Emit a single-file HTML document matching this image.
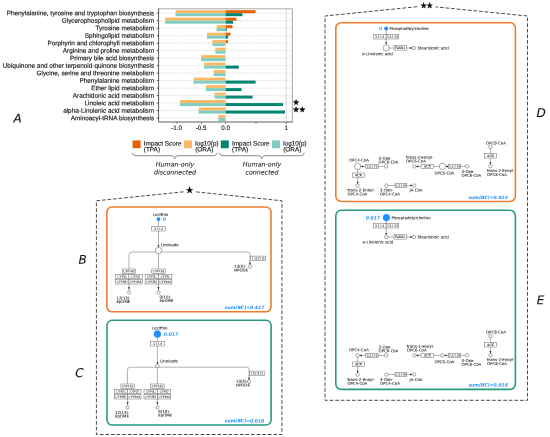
<!DOCTYPE html>
<html><head><meta charset="utf-8"><title>Figure</title>
<style>
html,body{margin:0;padding:0;background:#fff}
body{width:550px;height:437px;overflow:hidden}
svg{display:block}
text{font-family:"DejaVu Sans","Liberation Sans",sans-serif;fill:#222;text-rendering:geometricPrecision}
.lb{font-family:"Liberation Sans",sans-serif;font-size:6.4px;fill:#111;stroke:#111;stroke-width:0.14px}
.tk{font-family:"Liberation Sans",sans-serif;font-size:6.3px;fill:#111;stroke:#111;stroke-width:0.1px}
.lg{font-family:"Liberation Sans",sans-serif;font-size:6.4px;fill:#111;stroke:#111;stroke-width:0.12px}
.hm{font-size:6.3px;font-style:italic;fill:#222;stroke:#222;stroke-width:0.1px}
.pl{font-size:12px;font-style:italic;fill:#111;stroke:#111;stroke-width:0.12px}
.st{font-size:7.4px;fill:#000;stroke:#000;stroke-width:0.35px;stroke-linejoin:round}
.pw{font-size:3.92px;fill:#111;stroke:#111;stroke-width:0.05px}
.bx{font-family:"Liberation Serif",serif;fill:#111;stroke:#111;stroke-width:0.08px}
.sm{font-size:4.5px;font-style:italic;font-weight:bold;fill:#1E90FF}
.bv0{font-size:4.7px;font-style:italic;font-weight:bold;fill:#4AA5FF}
</style></head><body>
<svg width="550" height="437" viewBox="0 0 550 437">
<rect x="0" y="0" width="550" height="437" fill="#fff"/>
<rect x="158.6" y="8.8" width="133.79999999999998" height="113.2" fill="#fff" stroke="none"/>
<line x1="158.6" y1="13.20" x2="292.4" y2="13.20" stroke="#bdbdbd" stroke-width="0.55" stroke-dasharray="0.75 0.75"/>
<line x1="158.6" y1="20.69" x2="292.4" y2="20.69" stroke="#bdbdbd" stroke-width="0.55" stroke-dasharray="0.75 0.75"/>
<line x1="158.6" y1="28.18" x2="292.4" y2="28.18" stroke="#bdbdbd" stroke-width="0.55" stroke-dasharray="0.75 0.75"/>
<line x1="158.6" y1="35.67" x2="292.4" y2="35.67" stroke="#bdbdbd" stroke-width="0.55" stroke-dasharray="0.75 0.75"/>
<line x1="158.6" y1="43.16" x2="292.4" y2="43.16" stroke="#bdbdbd" stroke-width="0.55" stroke-dasharray="0.75 0.75"/>
<line x1="158.6" y1="50.65" x2="292.4" y2="50.65" stroke="#bdbdbd" stroke-width="0.55" stroke-dasharray="0.75 0.75"/>
<line x1="158.6" y1="58.14" x2="292.4" y2="58.14" stroke="#bdbdbd" stroke-width="0.55" stroke-dasharray="0.75 0.75"/>
<line x1="158.6" y1="65.63" x2="292.4" y2="65.63" stroke="#bdbdbd" stroke-width="0.55" stroke-dasharray="0.75 0.75"/>
<line x1="158.6" y1="73.12" x2="292.4" y2="73.12" stroke="#bdbdbd" stroke-width="0.55" stroke-dasharray="0.75 0.75"/>
<line x1="158.6" y1="80.61" x2="292.4" y2="80.61" stroke="#bdbdbd" stroke-width="0.55" stroke-dasharray="0.75 0.75"/>
<line x1="158.6" y1="88.10" x2="292.4" y2="88.10" stroke="#bdbdbd" stroke-width="0.55" stroke-dasharray="0.75 0.75"/>
<line x1="158.6" y1="95.59" x2="292.4" y2="95.59" stroke="#bdbdbd" stroke-width="0.55" stroke-dasharray="0.75 0.75"/>
<line x1="158.6" y1="103.08" x2="292.4" y2="103.08" stroke="#bdbdbd" stroke-width="0.55" stroke-dasharray="0.75 0.75"/>
<line x1="158.6" y1="110.57" x2="292.4" y2="110.57" stroke="#bdbdbd" stroke-width="0.55" stroke-dasharray="0.75 0.75"/>
<line x1="158.6" y1="118.06" x2="292.4" y2="118.06" stroke="#bdbdbd" stroke-width="0.55" stroke-dasharray="0.75 0.75"/>
<line x1="286.2" y1="8.8" x2="286.2" y2="122" stroke="#d2d2d2" stroke-width="0.9"/>
<rect x="175.5" y="10.20" width="50.10" height="3.0" fill="#FDB863"/>
<rect x="175.5" y="13.20" width="50.10" height="3.0" fill="#80CDC1"/>
<rect x="225.6" y="10.20" width="30.00" height="3.0" fill="#E66101"/>
<rect x="225.6" y="13.20" width="16.80" height="3.0" fill="#018571"/>
<rect x="165" y="17.69" width="60.60" height="3.0" fill="#FDB863"/>
<rect x="165" y="20.69" width="60.60" height="3.0" fill="#80CDC1"/>
<rect x="225.6" y="17.69" width="10.80" height="3.0" fill="#E66101"/>
<rect x="225.6" y="20.69" width="7.40" height="3.0" fill="#018571"/>
<rect x="216.6" y="25.18" width="9.00" height="3.0" fill="#FDB863"/>
<rect x="216.6" y="28.18" width="9.00" height="3.0" fill="#80CDC1"/>
<rect x="225.6" y="25.18" width="6.90" height="3.0" fill="#E66101"/>
<rect x="225.6" y="28.18" width="1.20" height="3.0" fill="#018571"/>
<rect x="207" y="32.67" width="18.60" height="3.0" fill="#FDB863"/>
<rect x="207" y="35.67" width="18.60" height="3.0" fill="#80CDC1"/>
<rect x="225.6" y="32.67" width="4.80" height="3.0" fill="#E66101"/>
<rect x="225.6" y="35.67" width="2.40" height="3.0" fill="#018571"/>
<rect x="212.4" y="40.16" width="13.20" height="3.0" fill="#FDB863"/>
<rect x="212.4" y="43.16" width="13.20" height="3.0" fill="#80CDC1"/>
<rect x="225.6" y="40.16" width="2.40" height="3.0" fill="#E66101"/>
<rect x="215.4" y="47.65" width="10.20" height="3.0" fill="#FDB863"/>
<rect x="215.4" y="50.65" width="10.20" height="3.0" fill="#80CDC1"/>
<rect x="201" y="55.14" width="24.60" height="3.0" fill="#FDB863"/>
<rect x="201" y="58.14" width="24.60" height="3.0" fill="#80CDC1"/>
<rect x="204" y="62.63" width="21.60" height="3.0" fill="#FDB863"/>
<rect x="204" y="65.63" width="21.60" height="3.0" fill="#80CDC1"/>
<rect x="225.6" y="65.63" width="13.20" height="3.0" fill="#018571"/>
<rect x="213.6" y="70.12" width="12.00" height="3.0" fill="#FDB863"/>
<rect x="213.6" y="73.12" width="12.00" height="3.0" fill="#80CDC1"/>
<rect x="193.5" y="77.61" width="32.10" height="3.0" fill="#FDB863"/>
<rect x="193.5" y="80.61" width="32.10" height="3.0" fill="#80CDC1"/>
<rect x="225.6" y="80.61" width="30.00" height="3.0" fill="#018571"/>
<rect x="205.8" y="85.10" width="19.80" height="3.0" fill="#FDB863"/>
<rect x="205.8" y="88.10" width="19.80" height="3.0" fill="#80CDC1"/>
<rect x="225.6" y="88.10" width="15.90" height="3.0" fill="#018571"/>
<rect x="214.5" y="92.59" width="11.10" height="3.0" fill="#FDB863"/>
<rect x="214.5" y="95.59" width="11.10" height="3.0" fill="#80CDC1"/>
<rect x="225.6" y="95.59" width="27.00" height="3.0" fill="#018571"/>
<rect x="180" y="100.08" width="45.60" height="3.0" fill="#FDB863"/>
<rect x="180" y="103.08" width="45.60" height="3.0" fill="#80CDC1"/>
<rect x="225.6" y="103.08" width="57.40" height="3.0" fill="#018571"/>
<rect x="198.6" y="107.57" width="27.00" height="3.0" fill="#FDB863"/>
<rect x="198.6" y="110.57" width="27.00" height="3.0" fill="#80CDC1"/>
<rect x="225.6" y="110.57" width="59.40" height="3.0" fill="#018571"/>
<rect x="218.4" y="115.06" width="7.20" height="3.0" fill="#FDB863"/>
<rect x="218.4" y="118.06" width="7.20" height="3.0" fill="#80CDC1"/>
<path d="M158.6,8.8 L292.4,8.8 L292.4,122" fill="none" stroke="#a0a0a0" stroke-width="0.9"/>
<path d="M158.6,8.4 L158.6,122 L292.79999999999995,122" fill="none" stroke="#4d4d4d" stroke-width="0.9"/>
<line x1="156.7" y1="13.20" x2="158.6" y2="13.20" stroke="#333" stroke-width="0.8"/>
<text x="154.1" y="15.40" transform="rotate(0.05 154.1 15.40)" text-anchor="end" class="lb">Phenylalanine, tyrosine and tryptophan biosynthesis</text>
<line x1="156.7" y1="20.69" x2="158.6" y2="20.69" stroke="#333" stroke-width="0.8"/>
<text x="154.1" y="22.89" transform="rotate(0.05 154.1 22.89)" text-anchor="end" class="lb">Glycerophospholipid metabolism</text>
<line x1="156.7" y1="28.18" x2="158.6" y2="28.18" stroke="#333" stroke-width="0.8"/>
<text x="154.1" y="30.38" transform="rotate(0.05 154.1 30.38)" text-anchor="end" class="lb">Tyrosine metabolism</text>
<line x1="156.7" y1="35.67" x2="158.6" y2="35.67" stroke="#333" stroke-width="0.8"/>
<text x="154.1" y="37.87" transform="rotate(0.05 154.1 37.87)" text-anchor="end" class="lb">Sphingolipid metabolism</text>
<line x1="156.7" y1="43.16" x2="158.6" y2="43.16" stroke="#333" stroke-width="0.8"/>
<text x="154.1" y="45.36" transform="rotate(0.05 154.1 45.36)" text-anchor="end" class="lb">Porphyrin and chlorophyll metabolism</text>
<line x1="156.7" y1="50.65" x2="158.6" y2="50.65" stroke="#333" stroke-width="0.8"/>
<text x="154.1" y="52.85" transform="rotate(0.05 154.1 52.85)" text-anchor="end" class="lb">Arginine and proline metabolism</text>
<line x1="156.7" y1="58.14" x2="158.6" y2="58.14" stroke="#333" stroke-width="0.8"/>
<text x="154.1" y="60.34" transform="rotate(0.05 154.1 60.34)" text-anchor="end" class="lb">Primary bile acid biosynthesis</text>
<line x1="156.7" y1="65.63" x2="158.6" y2="65.63" stroke="#333" stroke-width="0.8"/>
<text x="154.1" y="67.83" transform="rotate(0.05 154.1 67.83)" text-anchor="end" class="lb">Ubiquinone and other terpenoid-quinone biosynthesis</text>
<line x1="156.7" y1="73.12" x2="158.6" y2="73.12" stroke="#333" stroke-width="0.8"/>
<text x="154.1" y="75.32" transform="rotate(0.05 154.1 75.32)" text-anchor="end" class="lb">Glycine, serine and threonine metabolism</text>
<line x1="156.7" y1="80.61" x2="158.6" y2="80.61" stroke="#333" stroke-width="0.8"/>
<text x="154.1" y="82.81" transform="rotate(0.05 154.1 82.81)" text-anchor="end" class="lb">Phenylalanine metabolism</text>
<line x1="156.7" y1="88.10" x2="158.6" y2="88.10" stroke="#333" stroke-width="0.8"/>
<text x="154.1" y="90.30" transform="rotate(0.05 154.1 90.30)" text-anchor="end" class="lb">Ether lipid metabolism</text>
<line x1="156.7" y1="95.59" x2="158.6" y2="95.59" stroke="#333" stroke-width="0.8"/>
<text x="154.1" y="97.79" transform="rotate(0.05 154.1 97.79)" text-anchor="end" class="lb">Arachidonic acid metabolism</text>
<line x1="156.7" y1="103.08" x2="158.6" y2="103.08" stroke="#333" stroke-width="0.8"/>
<text x="154.1" y="105.28" transform="rotate(0.05 154.1 105.28)" text-anchor="end" class="lb">Linoleic acid metabolism</text>
<line x1="156.7" y1="110.57" x2="158.6" y2="110.57" stroke="#333" stroke-width="0.8"/>
<text x="154.1" y="112.77" transform="rotate(0.05 154.1 112.77)" text-anchor="end" class="lb">alpha-Linolenic acid metabolism</text>
<line x1="156.7" y1="118.06" x2="158.6" y2="118.06" stroke="#333" stroke-width="0.8"/>
<text x="154.1" y="120.26" transform="rotate(0.05 154.1 120.26)" text-anchor="end" class="lb">Aminoacyl-tRNA biosynthesis</text>
<line x1="177" y1="122" x2="177" y2="124" stroke="#444" stroke-width="0.6"/>
<text x="176.7" y="130" transform="rotate(0.05 176.7 130)" text-anchor="middle" class="tk">-1.0</text>
<line x1="201.5" y1="122" x2="201.5" y2="124" stroke="#444" stroke-width="0.6"/>
<text x="201.2" y="130" transform="rotate(0.05 201.2 130)" text-anchor="middle" class="tk">-0.5</text>
<line x1="225.6" y1="122" x2="225.6" y2="124" stroke="#444" stroke-width="0.6"/>
<text x="225.6" y="130" transform="rotate(0.05 225.6 130)" text-anchor="middle" class="tk">0.0</text>
<line x1="256" y1="122" x2="256" y2="124" stroke="#444" stroke-width="0.6"/>
<line x1="286.3" y1="122" x2="286.3" y2="124" stroke="#444" stroke-width="0.6"/>
<text x="286.3" y="130" transform="rotate(0.05 286.3 130)" text-anchor="middle" class="tk">1</text>
<text x="295.95" y="104.8" transform="rotate(0.05 295.95 104.8)" text-anchor="middle" class="st">★</text>
<text x="295.95" y="111.95" transform="rotate(0.05 295.95 111.95)" text-anchor="middle" class="st">★</text>
<text x="302.3" y="111.95" transform="rotate(0.05 302.3 111.95)" text-anchor="middle" class="st">★</text>
<text x="13.6" y="122.6" transform="rotate(0.05 13.6 122.6)" class="pl">A</text>
<rect x="132.6" y="140.4" width="8" height="7.8" fill="#E66101"/>
<text x="143.79999999999998" y="145.5" transform="rotate(0.05 143.79999999999998 145.5)" class="lg">Impact Score</text>
<text x="143.79999999999998" y="151.6" transform="rotate(0.05 143.79999999999998 151.6)" class="lg">(TPA)</text>
<rect x="184" y="140.4" width="8" height="7.8" fill="#FDB863"/>
<text x="195.2" y="145.5" transform="rotate(0.05 195.2 145.5)" class="lg">log10(p)</text>
<text x="195.2" y="151.6" transform="rotate(0.05 195.2 151.6)" class="lg">(ORA)</text>
<rect x="220.8" y="140.4" width="8" height="7.8" fill="#018571"/>
<text x="232.0" y="145.5" transform="rotate(0.05 232.0 145.5)" class="lg">Impact Score</text>
<text x="232.0" y="151.6" transform="rotate(0.05 232.0 151.6)" class="lg">(TPA)</text>
<rect x="272" y="140.4" width="8" height="7.8" fill="#80CDC1"/>
<text x="283.2" y="145.5" transform="rotate(0.05 283.2 145.5)" class="lg">log10(p)</text>
<text x="283.2" y="151.6" transform="rotate(0.05 283.2 151.6)" class="lg">(ORA)</text>
<path d="M132.4,152.7 Q132.4,155.7 136.9,155.7 L170.2,155.7 Q174.7,155.7 174.7,158.7 Q174.7,155.7 179.2,155.7 L212.5,155.7 Q217,155.7 217,152.7" fill="none" stroke="#555" stroke-width="0.7"/>
<path d="M219.4,152.7 Q219.4,155.7 223.9,155.7 L257.3,155.7 Q261.8,155.7 261.8,158.7 Q261.8,155.7 266.3,155.7 L299.7,155.7 Q304.2,155.7 304.2,152.7" fill="none" stroke="#555" stroke-width="0.7"/>
<text x="175" y="166.6" transform="rotate(0.05 175 166.6)" text-anchor="middle" class="hm">Human-only</text>
<text x="175" y="174.4" transform="rotate(0.05 175 174.4)" text-anchor="middle" class="hm">disconnected</text>
<text x="262" y="166.6" transform="rotate(0.05 262 166.6)" text-anchor="middle" class="hm">Human-only</text>
<text x="262" y="174.4" transform="rotate(0.05 262 174.4)" text-anchor="middle" class="hm">connected</text>
<path d="M183.6,191.8 L96.4,200.8 L96.4,434.5 L281.95,434.5 L281.95,200.8 L195.4,191.8" fill="none" stroke="#4a4a4a" stroke-width="1" stroke-dasharray="3.7 1.9"/>
<text x="189.55" y="192.9" transform="rotate(0.05 189.55 192.9)" text-anchor="middle" class="st" style="font-size:8.6px">★</text>
<path d="M417.2,6.7 L325,16 L325,400.3 L527.5,400.3 L527.5,16 L435.6,6.9" fill="none" stroke="#4a4a4a" stroke-width="1" stroke-dasharray="3.7 1.9"/>
<text x="423.6" y="7.95" transform="rotate(0.05 423.6 7.95)" text-anchor="middle" class="st" style="font-size:7.6px">★</text>
<text x="429.7" y="7.95" transform="rotate(0.05 429.7 7.95)" text-anchor="middle" class="st" style="font-size:7.6px">★</text>
<rect x="106.9" y="207" width="164.1" height="104.80000000000001" rx="5" ry="5" fill="#fff" stroke="#ED7D31" stroke-width="1.6"/>
<rect x="107" y="320.3" width="164.1" height="104.69999999999999" rx="5" ry="5" fill="#fff" stroke="#259C82" stroke-width="1.6"/>
<text x="160.6" y="216" transform="rotate(0.05 160.6 216)" text-anchor="middle" class="pw">Lecithin</text>
<path d="M158.5,221 L158.5,246" fill="none" stroke="#666" stroke-width="0.5"/>
<circle cx="158.5" cy="219.1" r="1.7" fill="#1E90FF" stroke="#1877E0" stroke-width="0.45"/>
<text x="164.3" y="220.7" transform="rotate(0.05 164.3 220.7)" text-anchor="middle" class="bv0">0</text>
<rect x="151.8" y="226.4" width="13.40" height="4.60" fill="#fff" stroke="#555" stroke-width="0.45"/>
<text x="158.50" y="229.82" transform="rotate(0.05 158.50 229.82)" text-anchor="middle" class="bx" style="font-size:3.3px">3.1.1.4</text>
<polygon points="157.5,245.2 159.5,245.2 158.5,247.2" fill="#111"/>
<text x="160.8" y="246.2" transform="rotate(0.05 160.8 246.2)" text-anchor="start" class="pw">Linoleate</text>
<path d="M158.5,252 L132,252 Q129,252 129,255 L129,269" fill="none" stroke="#666" stroke-width="0.5"/>
<path d="M158.5,252 L248,252 Q250,252 250,254 L250,265" fill="none" stroke="#666" stroke-width="0.5"/>
<path d="M158.5,252 L158.5,269" fill="none" stroke="#666" stroke-width="0.5"/>
<circle cx="158.5" cy="250.5" r="3.2" fill="#fff" stroke="#444" stroke-width="0.45"/>
<rect x="122.3" y="269" width="13.40" height="4.40" fill="#fff" stroke="#555" stroke-width="0.45"/>
<text x="129.00" y="272.25" transform="rotate(0.05 129.00 272.25)" text-anchor="middle" class="bx" style="font-size:3.1px">CYP1A2</text>
<rect x="115.6" y="274.3" width="13.40" height="4.40" fill="#fff" stroke="#555" stroke-width="0.45"/>
<text x="122.30" y="277.55" transform="rotate(0.05 122.30 277.55)" text-anchor="middle" class="bx" style="font-size:3.1px">CYP2C</text>
<rect x="129" y="274.3" width="13.40" height="4.40" fill="#fff" stroke="#555" stroke-width="0.45"/>
<text x="135.70" y="277.55" transform="rotate(0.05 135.70 277.55)" text-anchor="middle" class="bx" style="font-size:3.1px">CYP2J</text>
<rect x="115.6" y="279.6" width="13.40" height="4.40" fill="#fff" stroke="#555" stroke-width="0.45"/>
<text x="122.30" y="282.85" transform="rotate(0.05 122.30 282.85)" text-anchor="middle" class="bx" style="font-size:3.1px">CYP2E1</text>
<rect x="129" y="279.6" width="13.40" height="4.40" fill="#fff" stroke="#555" stroke-width="0.45"/>
<text x="135.70" y="282.85" transform="rotate(0.05 135.70 282.85)" text-anchor="middle" class="bx" style="font-size:3.1px">CYP3A4</text>
<path d="M129,284 L129,291" fill="none" stroke="#666" stroke-width="0.5"/>
<polygon points="128.0,287.2 130.0,287.2 129,289.2" fill="#111"/>
<circle cx="129" cy="292.4" r="1.6" fill="#fff" stroke="#444" stroke-width="0.45"/>
<rect x="151.8" y="269" width="13.40" height="4.40" fill="#fff" stroke="#555" stroke-width="0.45"/>
<text x="158.50" y="272.25" transform="rotate(0.05 158.50 272.25)" text-anchor="middle" class="bx" style="font-size:3.1px">CYP1A2</text>
<rect x="145.1" y="274.3" width="13.40" height="4.40" fill="#fff" stroke="#555" stroke-width="0.45"/>
<text x="151.80" y="277.55" transform="rotate(0.05 151.80 277.55)" text-anchor="middle" class="bx" style="font-size:3.1px">CYP2C</text>
<rect x="158.5" y="274.3" width="13.40" height="4.40" fill="#fff" stroke="#555" stroke-width="0.45"/>
<text x="165.20" y="277.55" transform="rotate(0.05 165.20 277.55)" text-anchor="middle" class="bx" style="font-size:3.1px">CYP2J</text>
<rect x="145.1" y="279.6" width="13.40" height="4.40" fill="#fff" stroke="#555" stroke-width="0.45"/>
<text x="151.80" y="282.85" transform="rotate(0.05 151.80 282.85)" text-anchor="middle" class="bx" style="font-size:3.1px">CYP2E1</text>
<rect x="158.5" y="279.6" width="13.40" height="4.40" fill="#fff" stroke="#555" stroke-width="0.45"/>
<text x="165.20" y="282.85" transform="rotate(0.05 165.20 282.85)" text-anchor="middle" class="bx" style="font-size:3.1px">CYP3A4</text>
<path d="M158.5,284 L158.5,291" fill="none" stroke="#666" stroke-width="0.5"/>
<polygon points="157.5,287.2 159.5,287.2 158.5,289.2" fill="#111"/>
<circle cx="158.5" cy="292.4" r="1.6" fill="#fff" stroke="#444" stroke-width="0.45"/>
<text x="116.4" y="299.4" transform="rotate(0.05 116.4 299.4)" text-anchor="start" class="pw">12(13)-</text>
<text x="116.4" y="302.9" transform="rotate(0.05 116.4 302.9)" text-anchor="start" class="pw">EpOME</text>
<text x="159.6" y="298.4" transform="rotate(0.05 159.6 298.4)" text-anchor="start" class="pw">9(10)-</text>
<text x="159.6" y="301.9" transform="rotate(0.05 159.6 301.9)" text-anchor="start" class="pw">EpOME</text>
<rect x="250.6" y="256.1" width="15.20" height="4.60" fill="#fff" stroke="#555" stroke-width="0.45"/>
<text x="258.20" y="259.42" transform="rotate(0.05 258.20 259.42)" text-anchor="middle" class="bx" style="font-size:3.0px">1.13.11.12</text>
<polygon points="249.0,262.8 251.0,262.8 250,264.8" fill="#111"/>
<circle cx="250" cy="266.6" r="1.65" fill="#fff" stroke="#444" stroke-width="0.45"/>
<text x="234.2" y="267.7" transform="rotate(0.05 234.2 267.7)" text-anchor="start" class="pw">13(S)-</text>
<text x="234.2" y="271.6" transform="rotate(0.05 234.2 271.6)" text-anchor="start" class="pw">HPODE</text>
<text x="264.2" y="309" transform="rotate(0.05 264.2 309)" text-anchor="end" class="sm">sum(BC)=0.417</text>
<text x="78.6" y="263.7" transform="rotate(0.05 78.6 263.7)" text-anchor="start" class="pl">B</text>
<text x="159.9" y="329.4" transform="rotate(0.05 159.9 329.4)" text-anchor="middle" class="pw">Lecithin</text>
<path d="M157.4,337 L157.4,364" fill="none" stroke="#666" stroke-width="0.5"/>
<circle cx="157.4" cy="334" r="3.5" fill="#1E90FF" stroke="#1E90FF" stroke-width="0.45"/>
<text x="164" y="335.7" transform="rotate(0.05 164 335.7)" text-anchor="start" class="sm">0.017</text>
<rect x="150.6" y="341.4" width="13.80" height="4.60" fill="#fff" stroke="#555" stroke-width="0.45"/>
<text x="157.50" y="344.82" transform="rotate(0.05 157.50 344.82)" text-anchor="middle" class="bx" style="font-size:3.3px">3.1.1.4</text>
<polygon points="156.4,362.2 158.4,362.2 157.4,364.2" fill="#111"/>
<text x="160" y="362.6" transform="rotate(0.05 160 362.6)" text-anchor="start" class="pw">Linoleate</text>
<path d="M157.4,367.2 L130.4,367.2 Q127.4,367.2 127.4,370.2 L127.4,384" fill="none" stroke="#666" stroke-width="0.5"/>
<path d="M157.4,367.2 L247,367.2 Q249,367.2 249,369.2 L249,380" fill="none" stroke="#666" stroke-width="0.5"/>
<path d="M157.4,367.2 L157.4,384" fill="none" stroke="#666" stroke-width="0.5"/>
<circle cx="157.4" cy="366" r="1.8" fill="#fff" stroke="#444" stroke-width="0.45"/>
<rect x="120.89999999999999" y="384" width="13.40" height="4.40" fill="#fff" stroke="#555" stroke-width="0.45"/>
<text x="127.60" y="387.25" transform="rotate(0.05 127.60 387.25)" text-anchor="middle" class="bx" style="font-size:3.1px">CYP1A2</text>
<rect x="114.19999999999999" y="389.3" width="13.40" height="4.40" fill="#fff" stroke="#555" stroke-width="0.45"/>
<text x="120.90" y="392.55" transform="rotate(0.05 120.90 392.55)" text-anchor="middle" class="bx" style="font-size:3.1px">CYP2C</text>
<rect x="127.6" y="389.3" width="13.40" height="4.40" fill="#fff" stroke="#555" stroke-width="0.45"/>
<text x="134.30" y="392.55" transform="rotate(0.05 134.30 392.55)" text-anchor="middle" class="bx" style="font-size:3.1px">CYP2J</text>
<rect x="114.19999999999999" y="394.6" width="13.40" height="4.40" fill="#fff" stroke="#555" stroke-width="0.45"/>
<text x="120.90" y="397.85" transform="rotate(0.05 120.90 397.85)" text-anchor="middle" class="bx" style="font-size:3.1px">CYP2E1</text>
<rect x="127.6" y="394.6" width="13.40" height="4.40" fill="#fff" stroke="#555" stroke-width="0.45"/>
<text x="134.30" y="397.85" transform="rotate(0.05 134.30 397.85)" text-anchor="middle" class="bx" style="font-size:3.1px">CYP3A4</text>
<path d="M127.6,399 L127.6,406" fill="none" stroke="#666" stroke-width="0.5"/>
<polygon points="126.6,402.2 128.6,402.2 127.6,404.2" fill="#111"/>
<circle cx="127.6" cy="407.4" r="1.6" fill="#fff" stroke="#444" stroke-width="0.45"/>
<rect x="150.70000000000002" y="384" width="13.40" height="4.40" fill="#fff" stroke="#555" stroke-width="0.45"/>
<text x="157.40" y="387.25" transform="rotate(0.05 157.40 387.25)" text-anchor="middle" class="bx" style="font-size:3.1px">CYP1A2</text>
<rect x="144.0" y="389.3" width="13.40" height="4.40" fill="#fff" stroke="#555" stroke-width="0.45"/>
<text x="150.70" y="392.55" transform="rotate(0.05 150.70 392.55)" text-anchor="middle" class="bx" style="font-size:3.1px">CYP2C</text>
<rect x="157.4" y="389.3" width="13.40" height="4.40" fill="#fff" stroke="#555" stroke-width="0.45"/>
<text x="164.10" y="392.55" transform="rotate(0.05 164.10 392.55)" text-anchor="middle" class="bx" style="font-size:3.1px">CYP2J</text>
<rect x="144.0" y="394.6" width="13.40" height="4.40" fill="#fff" stroke="#555" stroke-width="0.45"/>
<text x="150.70" y="397.85" transform="rotate(0.05 150.70 397.85)" text-anchor="middle" class="bx" style="font-size:3.1px">CYP2E1</text>
<rect x="157.4" y="394.6" width="13.40" height="4.40" fill="#fff" stroke="#555" stroke-width="0.45"/>
<text x="164.10" y="397.85" transform="rotate(0.05 164.10 397.85)" text-anchor="middle" class="bx" style="font-size:3.1px">CYP3A4</text>
<path d="M157.4,399 L157.4,406" fill="none" stroke="#666" stroke-width="0.5"/>
<polygon points="156.4,402.2 158.4,402.2 157.4,404.2" fill="#111"/>
<circle cx="157.4" cy="407.4" r="1.6" fill="#fff" stroke="#444" stroke-width="0.45"/>
<text x="115" y="414" transform="rotate(0.05 115 414)" text-anchor="start" class="pw">12(13)-</text>
<text x="115" y="417.5" transform="rotate(0.05 115 417.5)" text-anchor="start" class="pw">EpOME</text>
<text x="158.2" y="413" transform="rotate(0.05 158.2 413)" text-anchor="start" class="pw">9(10)-</text>
<text x="158.2" y="416.5" transform="rotate(0.05 158.2 416.5)" text-anchor="start" class="pw">EpOME</text>
<rect x="249.3" y="371.1" width="14.90" height="4.70" fill="#fff" stroke="#555" stroke-width="0.45"/>
<text x="256.75" y="374.47" transform="rotate(0.05 256.75 374.47)" text-anchor="middle" class="bx" style="font-size:3.0px">1.13.11.12</text>
<polygon points="248.0,377.8 250.0,377.8 249,379.8" fill="#111"/>
<circle cx="249.1" cy="381.6" r="1.65" fill="#fff" stroke="#444" stroke-width="0.45"/>
<text x="236" y="382.7" transform="rotate(0.05 236 382.7)" text-anchor="start" class="pw">13(S)-</text>
<text x="236" y="386.6" transform="rotate(0.05 236 386.6)" text-anchor="start" class="pw">HPODE</text>
<text x="264.2" y="422.4" transform="rotate(0.05 264.2 422.4)" text-anchor="end" class="sm">sum(BC)=0.018</text>
<text x="75.3" y="377" transform="rotate(0.05 75.3 377)" text-anchor="start" class="pl">C</text>
<rect x="335.8" y="22.8" width="179.6" height="178.7" rx="5.4" ry="5.4" fill="#fff" stroke="#ED7D31" stroke-width="1.6"/>
<path d="M386.2,30 L386.2,44" fill="none" stroke="#666" stroke-width="0.5"/>
<circle cx="386.2" cy="28.5" r="1.75" fill="#1E90FF" stroke="#1877E0" stroke-width="0.45"/>
<text x="380.6" y="30.2" transform="rotate(0.05 380.6 30.2)" text-anchor="middle" class="bv0">0</text>
<text x="389.6" y="30" transform="rotate(0.05 389.6 30)" text-anchor="start" class="pw">Phosphatidylcholine</text>
<rect x="373.2" y="34.4" width="12.90" height="4.60" fill="#fff" stroke="#555" stroke-width="0.45"/>
<text x="379.65" y="37.82" transform="rotate(0.05 379.65 37.82)" text-anchor="middle" class="bx" style="font-size:3.3px">3.1.1.4</text>
<rect x="386.1" y="34.4" width="12.70" height="4.60" fill="#fff" stroke="#555" stroke-width="0.45"/>
<text x="392.45" y="37.82" transform="rotate(0.05 392.45 37.82)" text-anchor="middle" class="bx" style="font-size:3.3px">2.3.1.23</text>
<polygon points="385.2,42.6 387.2,42.6 386.2,44.6" fill="#111"/>
<path d="M386.2,48 L412,48" fill="none" stroke="#666" stroke-width="0.5"/>
<circle cx="386.2" cy="48" r="3.2" fill="#fff" stroke="#444" stroke-width="0.45"/>
<rect x="394" y="45.7" width="12.40" height="4.40" fill="#fff" stroke="#555" stroke-width="0.45"/>
<text x="400.20" y="49.02" transform="rotate(0.05 400.20 49.02)" text-anchor="middle" class="bx" style="font-size:3.3px">FADS2</text>
<polygon points="410.2,47.0 410.2,49.0 412.2,48" fill="#111"/>
<circle cx="414" cy="48" r="1.7" fill="#fff" stroke="#444" stroke-width="0.45"/>
<text x="417.4" y="49.4" transform="rotate(0.05 417.4 49.4)" text-anchor="start" class="pw">Stearidonic acid</text>
<text x="362.2" y="55.2" transform="rotate(0.05 362.2 55.2)" text-anchor="start" class="pw">α-Linolenic acid</text>
<text x="349" y="161.4" transform="rotate(0.05 349 161.4)" text-anchor="start" class="pw">OPC4-CoA</text>
<path d="M357.6,166.4 L386,166.4" fill="none" stroke="#666" stroke-width="0.5"/>
<path d="M357.6,166.4 L357.6,185" fill="none" stroke="#666" stroke-width="0.5"/>
<circle cx="357.6" cy="166.4" r="3.2" fill="#fff" stroke="#444" stroke-width="0.45"/>
<polygon points="363.1,165.4 363.1,167.4 361.1,166.4" fill="#111"/>
<rect x="365.8" y="164.20000000000002" width="12.40" height="4.40" fill="#fff" stroke="#555" stroke-width="0.45"/>
<text x="372.00" y="167.52" transform="rotate(0.05 372.00 167.52)" text-anchor="middle" class="bx" style="font-size:3.3px">2.3.1.16</text>
<circle cx="386.2" cy="166.4" r="1.7" fill="#fff" stroke="#444" stroke-width="0.45"/>
<text x="378.6" y="159.8" transform="rotate(0.05 378.6 159.8)" text-anchor="start" class="pw">3-Oxo-</text>
<text x="378.6" y="163.6" transform="rotate(0.05 378.6 163.6)" text-anchor="start" class="pw">OPC6-CoA</text>
<rect x="352.2" y="173" width="12.40" height="4.20" fill="#fff" stroke="#555" stroke-width="0.45"/>
<text x="358.40" y="176.22" transform="rotate(0.05 358.40 176.22)" text-anchor="middle" class="bx" style="font-size:3.3px">ACX</text>
<polygon points="356.6,181.8 358.6,181.8 357.6,183.8" fill="#111"/>
<circle cx="357.6" cy="185.6" r="1.7" fill="#fff" stroke="#444" stroke-width="0.45"/>
<text x="347.4" y="191.6" transform="rotate(0.05 347.4 191.6)" text-anchor="start" class="pw">trans-2-Enoyl-</text>
<text x="347.4" y="195.4" transform="rotate(0.05 347.4 195.4)" text-anchor="start" class="pw">OPC4-CoA</text>
<path d="M386.4,185.5 L412,185.5" fill="none" stroke="#666" stroke-width="0.5"/>
<circle cx="386.4" cy="185.5" r="1.7" fill="#fff" stroke="#444" stroke-width="0.45"/>
<rect x="395" y="183.4" width="11.80" height="4.20" fill="#fff" stroke="#555" stroke-width="0.45"/>
<text x="400.90" y="186.62" transform="rotate(0.05 400.90 186.62)" text-anchor="middle" class="bx" style="font-size:3.3px">2.3.1.16</text>
<polygon points="410.3,184.5 410.3,186.5 412.3,185.5" fill="#111"/>
<circle cx="414.2" cy="185.5" r="1.7" fill="#fff" stroke="#444" stroke-width="0.45"/>
<text x="380" y="191.6" transform="rotate(0.05 380 191.6)" text-anchor="start" class="pw">3-Oxo-</text>
<text x="380" y="195.4" transform="rotate(0.05 380 195.4)" text-anchor="start" class="pw">OPC4-CoA</text>
<text x="409.6" y="191.6" transform="rotate(0.05 409.6 191.6)" text-anchor="start" class="pw">JA-CoA</text>
<text x="406" y="158.7" transform="rotate(0.05 406 158.7)" text-anchor="start" class="pw">trans-2-Enoyl-</text>
<text x="406" y="162.6" transform="rotate(0.05 406 162.6)" text-anchor="start" class="pw">OPC6-CoA</text>
<path d="M414.4,166.4 L467,166.4" fill="none" stroke="#666" stroke-width="0.5"/>
<circle cx="414.4" cy="166.4" r="1.7" fill="#fff" stroke="#444" stroke-width="0.45"/>
<polygon points="418.3,165.4 418.3,167.4 416.3,166.4" fill="#111"/>
<rect x="421" y="164.20000000000002" width="12.60" height="4.40" fill="#fff" stroke="#555" stroke-width="0.45"/>
<text x="427.30" y="167.52" transform="rotate(0.05 427.30 167.52)" text-anchor="middle" class="bx" style="font-size:3.3px">ACX</text>
<circle cx="442.4" cy="166.4" r="3.2" fill="#fff" stroke="#444" stroke-width="0.45"/>
<polygon points="447.9,165.4 447.9,167.4 445.9,166.4" fill="#111"/>
<rect x="448.6" y="164.20000000000002" width="12.20" height="4.40" fill="#fff" stroke="#555" stroke-width="0.45"/>
<text x="454.70" y="167.52" transform="rotate(0.05 454.70 167.52)" text-anchor="middle" class="bx" style="font-size:3.3px">2.3.1.16</text>
<circle cx="467.2" cy="166.4" r="1.7" fill="#fff" stroke="#444" stroke-width="0.45"/>
<text x="434.4" y="174.6" transform="rotate(0.05 434.4 174.6)" text-anchor="start" class="pw">OPC6-CoA</text>
<text x="461.4" y="173" transform="rotate(0.05 461.4 173)" text-anchor="start" class="pw">3-Oxo-</text>
<text x="461.4" y="176.7" transform="rotate(0.05 461.4 176.7)" text-anchor="start" class="pw">OPC8-CoA</text>
<text x="486" y="144.4" transform="rotate(0.05 486 144.4)" text-anchor="start" class="pw">OPC8-CoA</text>
<path d="M490.4,147 L490.4,166" fill="none" stroke="#666" stroke-width="0.5"/>
<circle cx="490.4" cy="147" r="1.7" fill="#fff" stroke="#444" stroke-width="0.45"/>
<rect x="484.4" y="153.6" width="12.20" height="4.40" fill="#fff" stroke="#555" stroke-width="0.45"/>
<text x="490.50" y="156.92" transform="rotate(0.05 490.50 156.92)" text-anchor="middle" class="bx" style="font-size:3.3px">ACX</text>
<polygon points="489.4,162.3 491.4,162.3 490.4,164.3" fill="#111"/>
<circle cx="490.4" cy="166.2" r="1.7" fill="#fff" stroke="#444" stroke-width="0.45"/>
<text x="487" y="172.1" transform="rotate(0.05 487 172.1)" text-anchor="start" class="pw">trans-2-Enoyl-</text>
<text x="487" y="176" transform="rotate(0.05 487 176)" text-anchor="start" class="pw">OPC8-CoA</text>
<text x="507.8" y="199.1" transform="rotate(0.05 507.8 199.1)" text-anchor="end" class="sm">sum(BC)=0.023</text>
<rect x="335.8" y="210.3" width="179.6" height="179.09999999999997" rx="5.4" ry="5.4" fill="#fff" stroke="#259C82" stroke-width="1.6"/>
<path d="M386.2,219 L386.2,233" fill="none" stroke="#666" stroke-width="0.5"/>
<circle cx="386.4" cy="217.6" r="3.4" fill="#1E90FF" stroke="#1E90FF" stroke-width="0.45"/>
<text x="380" y="219.4" transform="rotate(0.05 380 219.4)" text-anchor="end" class="sm">0.017</text>
<text x="391.4" y="219.2" transform="rotate(0.05 391.4 219.2)" text-anchor="start" class="pw">Phosphatidylcholine</text>
<rect x="373.2" y="223.4" width="12.90" height="4.60" fill="#fff" stroke="#555" stroke-width="0.45"/>
<text x="379.65" y="226.82" transform="rotate(0.05 379.65 226.82)" text-anchor="middle" class="bx" style="font-size:3.3px">3.1.1.4</text>
<rect x="386.1" y="223.4" width="12.70" height="4.60" fill="#fff" stroke="#555" stroke-width="0.45"/>
<text x="392.45" y="226.82" transform="rotate(0.05 392.45 226.82)" text-anchor="middle" class="bx" style="font-size:3.3px">2.3.1.23</text>
<polygon points="385.2,233.0 387.2,233.0 386.2,235" fill="#111"/>
<path d="M386.2,237 L412,237" fill="none" stroke="#666" stroke-width="0.5"/>
<circle cx="386.2" cy="237" r="1.8" fill="#fff" stroke="#444" stroke-width="0.45"/>
<rect x="394" y="234.7" width="12.40" height="4.40" fill="#fff" stroke="#555" stroke-width="0.45"/>
<text x="400.20" y="238.02" transform="rotate(0.05 400.20 238.02)" text-anchor="middle" class="bx" style="font-size:3.3px">FADS2</text>
<polygon points="410.2,236.0 410.2,238.0 412.2,237" fill="#111"/>
<circle cx="414" cy="237" r="1.7" fill="#fff" stroke="#444" stroke-width="0.45"/>
<text x="417.4" y="238.4" transform="rotate(0.05 417.4 238.4)" text-anchor="start" class="pw">Stearidonic acid</text>
<text x="362.6" y="243.4" transform="rotate(0.05 362.6 243.4)" text-anchor="start" class="pw">α-Linolenic acid</text>
<text x="349" y="351.3" transform="rotate(0.05 349 351.3)" text-anchor="start" class="pw">OPC4-CoA</text>
<path d="M357.6,355.4 L386,355.4" fill="none" stroke="#666" stroke-width="0.5"/>
<path d="M357.6,355.4 L357.6,374" fill="none" stroke="#666" stroke-width="0.5"/>
<circle cx="357.6" cy="355.4" r="1.8" fill="#fff" stroke="#444" stroke-width="0.45"/>
<polygon points="361.70000000000005,354.4 361.70000000000005,356.4 359.70000000000005,355.4" fill="#111"/>
<rect x="365.8" y="353.2" width="12.40" height="4.40" fill="#fff" stroke="#555" stroke-width="0.45"/>
<text x="372.00" y="356.52" transform="rotate(0.05 372.00 356.52)" text-anchor="middle" class="bx" style="font-size:3.3px">2.3.1.16</text>
<circle cx="386.2" cy="355.4" r="1.7" fill="#fff" stroke="#444" stroke-width="0.45"/>
<text x="378.6" y="348.40000000000003" transform="rotate(0.05 378.6 348.40000000000003)" text-anchor="start" class="pw">3-Oxo-</text>
<text x="378.6" y="352.20000000000005" transform="rotate(0.05 378.6 352.20000000000005)" text-anchor="start" class="pw">OPC6-CoA</text>
<rect x="352.2" y="362" width="12.40" height="4.20" fill="#fff" stroke="#555" stroke-width="0.45"/>
<text x="358.40" y="365.22" transform="rotate(0.05 358.40 365.22)" text-anchor="middle" class="bx" style="font-size:3.3px">ACX</text>
<polygon points="356.6,370.8 358.6,370.8 357.6,372.8" fill="#111"/>
<circle cx="357.6" cy="374.6" r="1.7" fill="#fff" stroke="#444" stroke-width="0.45"/>
<text x="347.4" y="381.0" transform="rotate(0.05 347.4 381.0)" text-anchor="start" class="pw">trans-2-Enoyl-</text>
<text x="347.4" y="384.79999999999995" transform="rotate(0.05 347.4 384.79999999999995)" text-anchor="start" class="pw">OPC4-CoA</text>
<path d="M386.4,374.5 L412,374.5" fill="none" stroke="#666" stroke-width="0.5"/>
<circle cx="386.4" cy="374.5" r="1.7" fill="#fff" stroke="#444" stroke-width="0.45"/>
<rect x="395" y="372.4" width="11.80" height="4.20" fill="#fff" stroke="#555" stroke-width="0.45"/>
<text x="400.90" y="375.62" transform="rotate(0.05 400.90 375.62)" text-anchor="middle" class="bx" style="font-size:3.3px">2.3.1.16</text>
<polygon points="410.3,373.5 410.3,375.5 412.3,374.5" fill="#111"/>
<circle cx="414.2" cy="374.5" r="1.7" fill="#fff" stroke="#444" stroke-width="0.45"/>
<text x="380" y="381.0" transform="rotate(0.05 380 381.0)" text-anchor="start" class="pw">3-Oxo-</text>
<text x="380" y="384.79999999999995" transform="rotate(0.05 380 384.79999999999995)" text-anchor="start" class="pw">OPC4-CoA</text>
<text x="409.6" y="381.0" transform="rotate(0.05 409.6 381.0)" text-anchor="start" class="pw">JA-CoA</text>
<text x="406.8" y="347.7" transform="rotate(0.05 406.8 347.7)" text-anchor="start" class="pw">trans-2-Enoyl-</text>
<text x="406.8" y="351.6" transform="rotate(0.05 406.8 351.6)" text-anchor="start" class="pw">OPC6-CoA</text>
<path d="M414.4,355.4 L467,355.4" fill="none" stroke="#666" stroke-width="0.5"/>
<circle cx="414.4" cy="355.4" r="1.7" fill="#fff" stroke="#444" stroke-width="0.45"/>
<polygon points="418.3,354.4 418.3,356.4 416.3,355.4" fill="#111"/>
<rect x="421" y="353.2" width="12.60" height="4.40" fill="#fff" stroke="#555" stroke-width="0.45"/>
<text x="427.30" y="356.52" transform="rotate(0.05 427.30 356.52)" text-anchor="middle" class="bx" style="font-size:3.3px">ACX</text>
<circle cx="442.4" cy="355.4" r="1.8" fill="#fff" stroke="#444" stroke-width="0.45"/>
<polygon points="446.5,354.4 446.5,356.4 444.5,355.4" fill="#111"/>
<rect x="448.6" y="353.2" width="12.20" height="4.40" fill="#fff" stroke="#555" stroke-width="0.45"/>
<text x="454.70" y="356.52" transform="rotate(0.05 454.70 356.52)" text-anchor="middle" class="bx" style="font-size:3.3px">2.3.1.16</text>
<circle cx="467.2" cy="355.4" r="1.7" fill="#fff" stroke="#444" stroke-width="0.45"/>
<text x="434.4" y="363.2" transform="rotate(0.05 434.4 363.2)" text-anchor="start" class="pw">OPC6-CoA</text>
<text x="461.4" y="362" transform="rotate(0.05 461.4 362)" text-anchor="start" class="pw">3-Oxo-</text>
<text x="461.4" y="365.7" transform="rotate(0.05 461.4 365.7)" text-anchor="start" class="pw">OPC8-CoA</text>
<text x="486" y="333.4" transform="rotate(0.05 486 333.4)" text-anchor="start" class="pw">OPC8-CoA</text>
<path d="M490.4,336 L490.4,355" fill="none" stroke="#666" stroke-width="0.5"/>
<circle cx="490.4" cy="336" r="1.7" fill="#fff" stroke="#444" stroke-width="0.45"/>
<rect x="484.4" y="342.6" width="12.20" height="4.40" fill="#fff" stroke="#555" stroke-width="0.45"/>
<text x="490.50" y="345.92" transform="rotate(0.05 490.50 345.92)" text-anchor="middle" class="bx" style="font-size:3.3px">ACX</text>
<polygon points="489.4,351.3 491.4,351.3 490.4,353.3" fill="#111"/>
<circle cx="490.4" cy="355.2" r="1.7" fill="#fff" stroke="#444" stroke-width="0.45"/>
<text x="487" y="361.1" transform="rotate(0.05 487 361.1)" text-anchor="start" class="pw">trans-2-Enoyl-</text>
<text x="487" y="365" transform="rotate(0.05 487 365)" text-anchor="start" class="pw">OPC8-CoA</text>
<text x="507.8" y="386.5" transform="rotate(0.05 507.8 386.5)" text-anchor="end" class="sm">sum(BC)=0.018</text>
<text x="536.6" y="117" transform="rotate(0.05 536.6 117)" text-anchor="start" class="pl">D</text>
<text x="536.8" y="304.2" transform="rotate(0.05 536.8 304.2)" text-anchor="start" class="pl">E</text>
</svg>
</body></html>
